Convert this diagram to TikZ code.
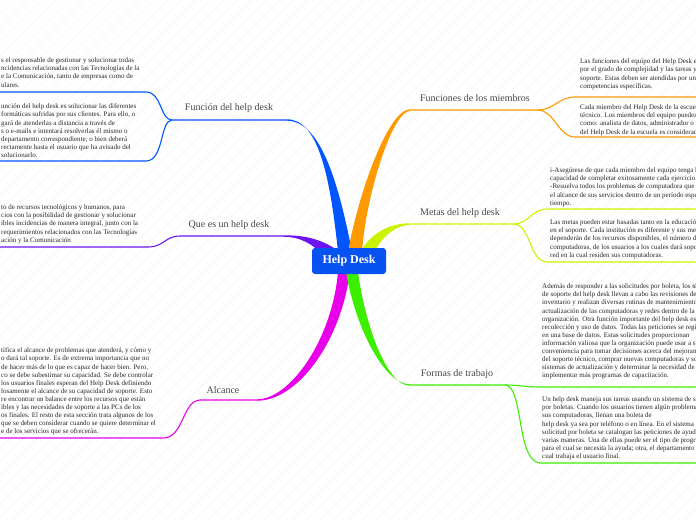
\documentclass[tikz,border=0pt]{standalone}
\usepackage{fontspec}
\setmainfont{Liberation Serif}
\usepackage{tikz}

\definecolor{nodeblue}{RGB}{8,82,242}
\definecolor{brblue}{RGB}{0,85,255}
\definecolor{brorange}{RGB}{255,153,0}
\definecolor{bryellow}{RGB}{204,242,0}
\definecolor{brpurple}{RGB}{110,20,240}
\definecolor{brmagenta}{RGB}{232,0,232}
\definecolor{brgreen}{RGB}{60,238,0}

\begin{document}
\begin{tikzpicture}[x=1pt, y=-1pt,
  blk/.style={anchor=north west, align=left, inner sep=0pt, text=black!85,
    font=\fontsize{7}{8.1}\selectfont},
  lbl/.style={inner sep=0pt, text=black!72, font=\fontsize{10}{12}\selectfont},
  uline/.style={line width=1.1pt},
  stripe/.style={black!4, line width=0.7pt}]
  \useasboundingbox (0,0) rectangle (696,520);
  \clip (0,0) rectangle (696,520);
  % faint diagonal background
  \foreach \i in {-520,-506,...,700}
    \draw[stripe] (\i,520) -- (\i+520,0);

  % end points of the main branches
  \coordinate (funcion-end) at (287,120);
  \coordinate (quees-end) at (282,236);
  \coordinate (alcance-end) at (257,400);
  \coordinate (miembros-end) at (410,110);
  \coordinate (metas-end) at (410,224);
  \coordinate (formas-end) at (410,385);

  % thick tapered branches
  \fill[brblue] (338,252) .. controls (330,175) and (318,119.3) .. (287,119.3)
    -- (287,120.7) .. controls (320,121) and (338,180) .. (352,252) -- cycle;
  \fill[brorange] (348,252) .. controls (358,195) and (388,109.3) .. (410,109.3)
    -- (410,110.7) .. controls (392,112) and (366,195) .. (362,252) -- cycle;
  \fill[bryellow] (360,252) .. controls (372,232) and (390,223.3) .. (410,223.3)
    -- (410,224.7) .. controls (392,226) and (380,240) .. (372,256) -- cycle;
  \fill[brpurple] (282,235.3) .. controls (305,235) and (322,239) .. (340,252)
    -- (326,258) .. controls (312,243) and (300,236.7) .. (282,236.7) -- cycle;
  \fill[brmagenta] (338,272) .. controls (332,340) and (290,399.3) .. (257,399.3)
    -- (257,400.7) .. controls (296,401) and (340,345) .. (350,272) -- cycle;
  \fill[brgreen] (346,272) .. controls (356,330) and (385,384.3) .. (410,384.3)
    -- (410,385.7) .. controls (388,386) and (366,330) .. (358,272) -- cycle;

  % central topic
  \node[fill=nodeblue, rounded corners=3pt, minimum width=74pt, minimum height=26pt,
    text=white, font=\fontsize{12}{14}\selectfont\bfseries] (helpdesk) at (349,261) {Help Desk};

  % branch labels
  \node[lbl] (lfuncion) at (229,108) {Función del help desk};
  \node[lbl] (lquees) at (229,225) {Que es un help desk};
  \node[lbl] (lalcance) at (223,390) {Alcance};
  \node[lbl] (lmiembros) at (475,98) {Funciones de los miembros};
  \node[lbl] (lmetas) at (460,213) {Metas del help desk};
  \node[lbl] (lformas) at (457,374) {Formas de trabajo};

  % text blocks, left side
  \node[blk] (tfuncionA) at (1,57.7) {s el responsable de gestionar y solucionar todas\\
    ncidencias relacionadas con las Tecnologías de la\\
    e la Comunicación, tanto de empresas como de\\
    ulares.};
  \node[blk] (tfuncionB) at (1,103.7) {unción del help desk es solucionar las diferentes\\
    formáticas sufridas por sus clientes. Para ello, o\\
    gará de atenderlas a distancia a través de\\
    s o e-mails e intentará resolverlas él mismo o\\
    departamento correspondiente; o bien deberá\\
    rectamente hasta el usuario que ha avisado del\\
    solucionarlo.};
  \node[blk] (tquees) at (1,204.7) {to de recursos tecnológicos y humanos, para\\
    cios con la posibilidad de gestionar y solucionar\\
    ibles incidencias de manera integral, junto con la\\
    requerimientos relacionados con las Tecnologías\\
    ación y la Comunicación};
  \node[blk] (talcance) at (1,347.7) {tifica el alcance de problemas que atenderá, y cómo y\\
    o dará tal soporte. Es de extrema importancia que no\\
    de hacer más de lo que es capaz de hacer bien. Pero,\\
    co se debe subestimar su capacidad. Se debe controlar\\
    los usuarios finales esperan del Help Desk definiendo\\
    losamente el alcance de su capacidad de soporte. Esto\\
    re encontrar un balance entre los recursos que están\\
    ibles y las necesidades de soporte a las PCs de los\\
    os finales. El resto de esta sección trata algunos de los\\
    que se deben considerar cuando se quiere determinar el\\
    e de los servicios que se ofrecerán.};

  % text blocks, right side
  \node[blk] (tmiembrosA) at (580,58.7) {Las funciones del equipo del Help Desk están definidas\\
    por el grado de complejidad y las tareas y servicios de\\
    soporte. Estas deben ser atendidas por una persona con\\
    competencias específicas.};
  \node[blk] (tmiembrosB) at (580,104.7) {Cada miembro del Help Desk de la escuela tiene un rol\\
    técnico. Los miembros del equipo pueden tener roles\\
    como: analista de datos, administrador o líder. El líder\\
    del Help Desk de la escuela es considerado el jefe.};
  \node[blk] (tmetasA) at (550,167.7) {i-Asegúrese de que cada miembro del equipo tenga la\\
    capacidad de completar exitosamente cada ejercicio.\\
    -Resuelva todos los problemas de computadora que estén en\\
    el alcance de sus servicios dentro de un período específico de\\
    tiempo.};
  \node[blk] (tmetasB) at (550,219.7) {Las metas pueden estar basadas tanto en la educación como\\
    en el soporte. Cada institución es diferente y sus metas\\
    dependerán de los recursos disponibles, el número de\\
    computadoras, de los usuarios a los cuales dará soporte y la\\
    red en la cual residen sus computadoras.};
  \node[blk] (tformasA) at (542,283.7) {Además de responder a las solicitudes por boleta, los técnicos\\
    de soporte del help desk llevan a cabo las revisiones de\\
    inventario y realizan diversas rutinas de mantenimiento y\\
    actualización de las computadoras y redes dentro de la\\
    organización. Otra función importante del help desk es la\\
    recolección y uso de datos. Todas las peticiones se registran\\
    en una base de datos. Estas solicitudes proporcionan\\
    información valiosa que la organización puede usar a su\\
    conveniencia para tomar decisiones acerca del mejoramiento\\
    del soporte técnico, comprar nuevas computadoras y software,\\
    sistemas de actualización y determinar la necesidad de\\
    implementar más programas de capacitación.};
  \node[blk] (tformasB) at (542,396.7) {Un help desk maneja sus tareas usando un sistema de solicitud\\
    por boletas. Cuando los usuarios tienen algún problema con\\
    sus computadoras, llenan una boleta de\\
    help desk ya sea por teléfono o en línea. En el sistema de\\
    solicitud por boleta se catalogan las peticiones de ayuda de\\
    varias maneras. Una de ellas puede ser el tipo de programa\\
    para el cual se necesita la ayuda; otra, el departamento en el\\
    cual trabaja el usuario final.};

  % underlines and brackets
  \draw[uline, brblue] (funcion-end) -- (172,120)
    .. controls (160,120) and (162,92) .. (146,92) -- (0,92);
  \draw[uline, brblue] (172,120) .. controls (160,120) and (164,161) .. (146,161) -- (0,161);
  \draw[uline, brpurple] (quees-end) -- (180,236)
    .. controls (165,236) and (164,247) .. (148,247) -- (0,247);
  \draw[uline, brmagenta] (alcance-end) -- (200,400)
    .. controls (182,401) and (184,438) .. (163,438) -- (0,438);
  \draw[uline, brorange] (miembros-end) -- (537,110)
    .. controls (555,110) and (558,97) .. (575,97) -- (700,97);
  \draw[uline, brorange] (537,110) .. controls (555,110) and (558,137) .. (575,137) -- (700,137);
  \draw[uline, bryellow] (metas-end) -- (513,224)
    .. controls (530,224) and (530,209) .. (548,209) -- (700,209);
  \draw[uline, bryellow] (513,224) .. controls (532,224) and (528,262) .. (548,262) -- (700,262);
  \draw[uline, brgreen] (formas-end) -- (505,385)
    .. controls (520,385) and (525,387) .. (540,387) -- (700,387);
  \draw[uline, brgreen] (505,385) .. controls (524,386) and (516,461) .. (540,463) -- (700,463);
\end{tikzpicture}
\end{document}
